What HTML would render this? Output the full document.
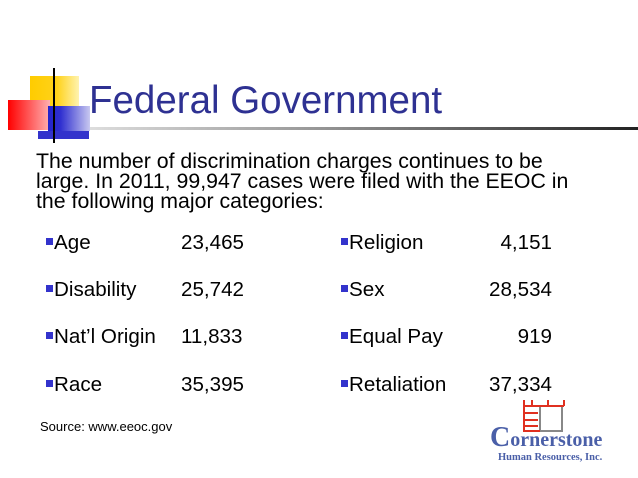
<!DOCTYPE html>
<html><head><meta charset="utf-8"><style>
body{margin:0;width:638px;height:478px;background:#fff;position:relative;overflow:hidden;font-family:"Liberation Sans",sans-serif}
div{position:absolute}
.t{font-size:20.6px;color:#000;white-space:nowrap;line-height:20px}
.b{width:7px;height:7px;background:#3333cc}
</style></head><body>
<div style="left:30px;top:76px;width:49px;height:32px;background:linear-gradient(90deg,#ffcc00 0%,#ffd21a 55%,#fff3b0 100%)"></div>
<div style="left:8px;top:100px;width:42px;height:30px;background:linear-gradient(90deg,#ff0000,#ffb0b0)"></div>
<div style="left:48px;top:106px;width:42px;height:25px;background:linear-gradient(90deg,#2222cc 0%,#3030d0 30%,#c8c8f0 100%)"></div>
<div style="left:38px;top:131px;width:51px;height:8px;background:#3333cc"></div>
<div style="left:53px;top:68px;width:2px;height:75px;background:#000"></div>
<div style="left:90px;top:127px;width:548px;height:3px;background:linear-gradient(90deg,#ddd,#999 40%,#222)"></div>
<div style="left:89px;top:79px;font-size:38.5px;color:#2e3192;white-space:nowrap">Federal Government</div>
<div class="t" style="left:36px;top:151px;line-height:20px;font-size:21.3px">The number of discrimination charges continues to be<br>large. In 2011, 99,947 cases were filed with the EEOC in<br>the following major categories:</div>

<div class="b" style="left:46px;top:238px"></div>
<div class="t" style="left:54px;top:233px">Age</div>
<div class="t" style="left:181px;top:233px">23,465</div>
<div class="b" style="left:46px;top:285px"></div>
<div class="t" style="left:54px;top:280px">Disability</div>
<div class="t" style="left:181px;top:280px">25,742</div>
<div class="b" style="left:46px;top:332px"></div>
<div class="t" style="left:54px;top:327px">Nat’l Origin</div>
<div class="t" style="left:181px;top:327px">11,833</div>
<div class="b" style="left:46px;top:380px"></div>
<div class="t" style="left:54px;top:375px">Race</div>
<div class="t" style="left:181px;top:375px">35,395</div>

<div class="b" style="left:341px;top:238px"></div>
<div class="t" style="left:349px;top:233px">Religion</div>
<div class="t" style="right:86px;top:233px">4,151</div>
<div class="b" style="left:341px;top:285px"></div>
<div class="t" style="left:349px;top:280px">Sex</div>
<div class="t" style="right:86px;top:280px">28,534</div>
<div class="b" style="left:341px;top:332px"></div>
<div class="t" style="left:349px;top:327px">Equal Pay</div>
<div class="t" style="right:86px;top:327px">919</div>
<div class="b" style="left:341px;top:380px"></div>
<div class="t" style="left:349px;top:375px">Retaliation</div>
<div class="t" style="right:86px;top:375px">37,334</div>

<div style="left:40px;top:419px;font-size:13px;color:#000">Source: www.eeoc.gov</div>

<svg style="position:absolute;left:520px;top:398px" width="64" height="36">
<rect x="20" y="8" width="22" height="25" fill="none" stroke="#888" stroke-width="2"/>
<path d="M4 2v31h16M4 8h40M12 2v6M28 2v6M44 2v6M4 15h14M4 22h14M4 28h14" fill="none" stroke="#e03020" stroke-width="2"/>
</svg>
<div style="left:490px;top:422px;font-family:'Liberation Serif',serif;font-size:20px;font-weight:bold;color:#4a5fa8;white-space:nowrap"><span style="font-size:28px">C</span>ornerstone</div>
<div style="left:498px;top:452px;font-family:'Liberation Serif',serif;font-size:10.5px;font-weight:bold;color:#4a5fa8;white-space:nowrap">Human Resources, Inc.</div>
</body></html>
